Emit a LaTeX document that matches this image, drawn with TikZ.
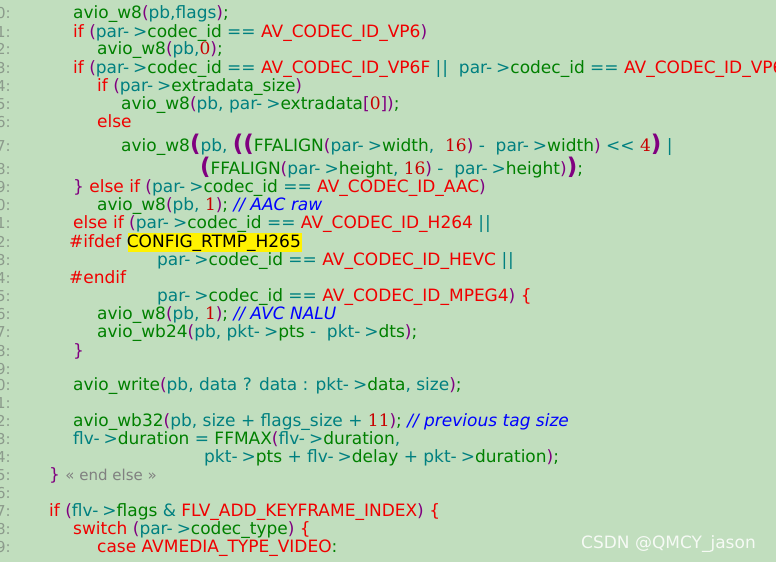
\documentclass[tikz,border=0pt]{standalone}
\usepackage{fontspec}
\setmainfont{DejaVu Sans}
\newfontfamily\numfont{DejaVu Serif}
\definecolor{bgc}{RGB}{193,222,190}
\definecolor{fnc}{RGB}{0,128,0}
\definecolor{idc}{RGB}{0,128,128}
\definecolor{kwc}{RGB}{240,0,0}
\definecolor{pac}{RGB}{128,0,128}
\definecolor{nuc}{RGB}{200,0,0}
\definecolor{cmc}{RGB}{0,0,255}
\definecolor{lnc}{RGB}{140,155,140}
\newcommand\cF[1]{\textcolor{fnc}{#1}}
\newcommand\cI[1]{\textcolor{idc}{#1}}
\newcommand\cK[1]{\textcolor{kwc}{#1}}
\newcommand\cP[1]{\textcolor{pac}{#1}}
\newcommand\cN[1]{\textcolor{nuc}{\numfont #1}}
\newcommand\cC[1]{\textcolor{cmc}{\itshape #1}}
\newcommand\arw{-\kern4pt>}
\newcommand\bigp[1]{\textcolor{pac}{\fontsize{23}{23}\selectfont\bfseries #1}}
\tikzset{code/.style={anchor=base west,inner sep=0pt,font=\fontsize{17}{17}\selectfont},
  lnum/.style={anchor=base east,inner sep=0pt,text=lnc,font=\fontsize{15}{15}\selectfont}}
\begin{document}
\begin{tikzpicture}[x=1pt,y=-1pt]
\fill[bgc] (0,0) rectangle (776,562);
\clip (0,0) rectangle (776,562);
\foreach \y/\d in {18/0,37/1,54/2,73/3,91/4,109/5,127/6,151/7,174/8,192/9,210/0,228/1,247/2,265/3,283/4,301/5,319/6,337/7,356/8,374/9,390/0,408/1,426/2,444/3,462/4,480/5,498/6,516/7,534/8,552/9}
  \node[lnum] (n\y) at (11,\y) {\d:};
\node[code] (l1) at (73,18) {\cF{avio\_w8}\cP{(}\cI{pb,flags}\cP{)}\cF{;}};
\node[code] (l2) at (73,37) {\cK{if} \cP{(}\cI{par\arw}\cF{codec\_id} \cI{==} \cK{AV\_CODEC\_ID\_VP6}\cP{)}};
\node[code] (l3) at (97,54) {\cF{avio\_w8}\cP{(}\cI{pb,}\cN{0}\cP{)}\cF{;}};
\node[code] (l4) at (73,73) {\cK{if} \cP{(}\cI{par\arw}\cF{codec\_id} \cI{==} \cK{AV\_CODEC\_ID\_VP6F} \cI{|\kern1pt|} \ \cI{par\arw}\cF{codec\_id} \cI{==} \cK{AV\_CODEC\_ID\_VP6A}\cP{)}};
\node[code] (l5) at (97,91) {\cK{if} \cP{(}\cI{par\arw}\cF{extradata\_size}\cP{)}};
\node[code] (l6) at (121,109) {\cF{avio\_w8}\cP{(}\cI{pb, par\arw}\cF{extradata}\cP{[}\cN{0}\cP{]}\cP{)}\cF{;}};
\node[code] (l7) at (97,127) {\cK{else}};
\node[code] (l8) at (121,151) {\cF{avio\_w8}\bigp{(}\cI{pb,} \bigp{((}\cF{FFALIGN}\cP{(}\cI{par\arw}\cF{width}\cI{,} \ \cN{16}\cP{)} \cI{-} \ \cI{par\arw}\cF{width}\cP{)} \cI{<{}<} \cN{4}\bigp{)} \cI{|}};
\node[code] (l9) at (200,174) {\bigp{(}\cF{FFALIGN}\cP{(}\cI{par\arw}\cF{height}\cI{,} \cN{16}\cP{)} \cI{-} \ \cI{par\arw}\cF{height}\cP{)}\bigp{)}\cF{;}};
\node[code] (l10) at (73,192) {\cP{\}} \cK{else if} \cP{(}\cI{par\arw}\cF{codec\_id} \cI{==} \cK{AV\_CODEC\_ID\_AAC}\cP{)}};
\node[code] (l11) at (97,210) {\cF{avio\_w8}\cP{(}\cI{pb,} \cN{1}\cP{)}\cF{;} \cC{// AAC raw}};
\node[code] (l12) at (73,228) {\cK{else if} \cP{(}\cI{par\arw}\cF{codec\_id} \cI{==} \cK{AV\_CODEC\_ID\_H264} \cI{|\kern1pt|}};
\node[code,fill=yellow,inner ysep=1pt] (hl) at (128,247) {\phantom{CONFIG\_RTMP\_H265}};
\node[code] (l13) at (69,247) {\cK{\#ifdef} CONFIG\_RTMP\_H265};
\node[code] (l14) at (157,265) {\cI{par\arw}\cF{codec\_id} \cI{==} \cK{AV\_CODEC\_ID\_HEVC} \cI{|\kern1pt|}};
\node[code] (l15) at (69,283) {\cK{\#endif}};
\node[code] (l16) at (157,301) {\cI{par\arw}\cF{codec\_id} \cI{==} \cK{AV\_CODEC\_ID\_MPEG4}\cP{)} \cK{\{}};
\node[code] (l17) at (97,319) {\cF{avio\_w8}\cP{(}\cI{pb,} \cN{1}\cP{)}\cF{;} \cC{// AVC NALU}};
\node[code] (l18) at (97,337) {\cF{avio\_wb24}\cP{(}\cI{pb, pkt\arw}\cF{pts} \cI{-} \ \cI{pkt\arw}\cF{dts}\cP{)}\cF{;}};
\node[code] (l19) at (73,356) {\cP{\}}};
\node[code] (l21) at (73,390) {\cF{avio\_write}\cP{(}\cI{pb, data ? data : pkt\arw}\cF{data}\cI{, size}\cP{)}\cF{;}};
\node[code] (l23) at (73,426) {\cF{avio\_wb32}\cP{(}\cI{pb, size + flags\_size +} \cN{11}\cP{)}\cF{;} \cC{// previous tag size}};
\node[code] (l24) at (73,444) {\cI{flv\arw}\cF{duration} \cI{=} \cF{FFMAX}\cP{(}\cI{flv\arw}\cF{duration}\cI{,}};
\node[code] (l25) at (204,462) {\cI{pkt\arw}\cF{pts} \cI{+} \cI{flv\arw}\cF{delay} \cI{+} \cI{pkt\arw}\cF{duration}\cP{)}\cF{;}};
\node[code] (l26) at (49,480) {\cP{\}} \textcolor{gray}{\fontsize{15}{15}\selectfont « end else »}};
\node[code] (l28) at (49,516) {\cK{if} \cP{(}\cI{flv\arw}\cF{flags} \cI{\&} \cK{FLV\_ADD\_KEYFRAME\_INDEX}\cP{)} \cK{\{}};
\node[code] (l29) at (73,534) {\cK{switch} \cP{(}\cI{par\arw}\cF{codec\_type}\cP{)} \cK{\{}};
\node[code] (l30) at (97,552) {\cK{case AVMEDIA\_TYPE\_VIDEO}\cF{:}};
\node[anchor=base west,inner sep=0pt,text=white!85!bgc,font=\fontsize{17}{17}\selectfont] (wm) at (581,548) {CSDN @QMCY\_jason};
\end{tikzpicture}
\end{document}
